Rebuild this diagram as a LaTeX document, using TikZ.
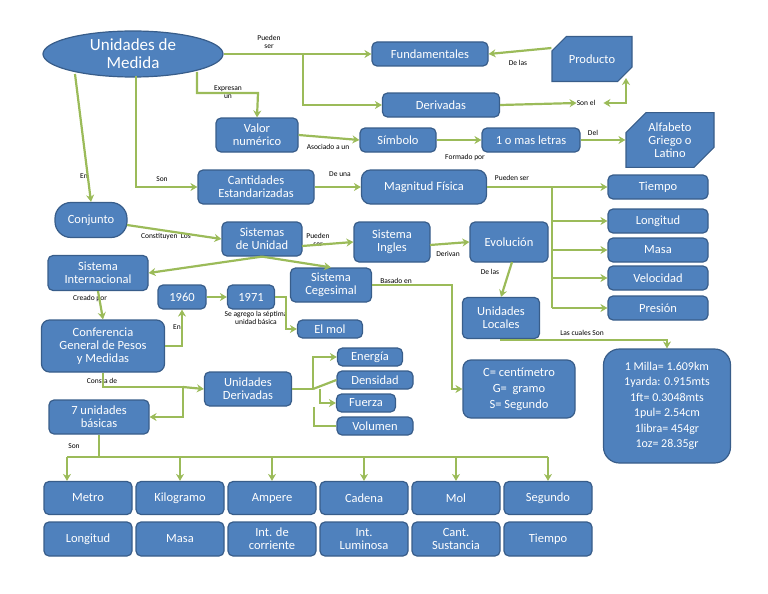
\documentclass[tikz,border=0pt]{standalone}
\usepackage{fontspec}
\setmainfont{Carlito}
\usetikzlibrary{shapes.geometric,shapes.misc,arrows.meta}
\definecolor{bfill}{HTML}{4F81BD}
\definecolor{bdraw}{HTML}{385D8A}
\definecolor{gr}{HTML}{9BBB59}
\begin{document}
\begin{tikzpicture}[x=1pt,y=-1pt,
  bx/.style={draw=bdraw,line width=1.2pt,fill=bfill,text=white,rounded corners=5pt,align=center,font=\fontsize{12.5}{13}\selectfont,inner sep=0pt,minimum height=#1},
  bx/.default=24,
  lb/.style={font=\fontsize{7.5}{8.5}\selectfont,align=center,inner sep=0pt},
  ar/.style={draw=gr,line width=2.2pt,-{Stealth[length=7pt,width=8pt]}},
  ln/.style={draw=gr,line width=2.2pt}]
\useasboundingbox (0,0) rectangle (768,594);
% nodes
\node[ellipse,draw=bdraw,line width=1.2pt,fill=bfill,text=white,minimum width=180,minimum height=46,align=center,inner sep=0pt,font=\fontsize{17}{18}\selectfont] (um) at (133,54) {Unidades de\\Medida};
\node[bx,minimum width=116] (fun) at (430,54) {Fundamentales};
\node[chamfered rectangle,chamfered rectangle corners={north west,south east},chamfered rectangle xsep=10pt,chamfered rectangle ysep=10pt,draw=bdraw,line width=1.2pt,fill=bfill,text=white,minimum width=80,minimum height=45,inner sep=0pt,font=\fontsize{12.5}{13}\selectfont] (pro) at (592,59) {Producto};
\node[bx,minimum width=117] (der) at (441,105) {Derivadas};
\node[lb] (sonel) at (586,103) {Son el};
\node[bx=34,minimum width=82] (val) at (257,135) {Valor\\numérico};
\node[bx,minimum width=76] (sim) at (398,140) {Símbolo};
\node[bx,minimum width=98] (let) at (531,140) {1 o mas letras};
\node[chamfered rectangle,chamfered rectangle corners={north west,south east},chamfered rectangle xsep=10pt,chamfered rectangle ysep=10pt,draw=bdraw,line width=1.2pt,fill=bfill,text=white,minimum width=88,minimum height=48,inner sep=0pt,align=center,font=\fontsize{12.5}{13}\selectfont] (alf) at (670,140) {Alfabeto\\Griego o\\Latino};
\node[bx=34,minimum width=116] (can) at (256,187) {Cantidades\\Estandarizadas};
\node[bx=34,minimum width=125,rounded corners=9pt] (mag) at (424,187) {Magnitud Física};
\node[bx,minimum width=100] (tie) at (658,187) {Tiempo};
\node[bx,minimum width=100] (lon) at (658,221) {Longitud};
\node[bx,minimum width=100] (mas) at (658,250) {Masa};
\node[bx,minimum width=100] (vel) at (658,278) {Velocidad};
\node[bx,minimum width=100] (pre) at (658,308) {Presión};
\node[bx=35,minimum width=72,rounded corners=16pt] (con) at (91,220) {Conjunto};
\node[bx=34,minimum width=80] (siu) at (262,239) {Sistemas\\de Unidad};
\node[bx=40,minimum width=76] (sin) at (392,242) {Sistema\\Ingles};
\node[bx=40,minimum width=78] (evo) at (509,242) {Evolución};
\node[bx=41,minimum width=77] (ul) at (501,318) {Unidades\\Locales};
\node[bx=114,minimum width=127,rounded corners=16pt,font=\fontsize{12}{15.5}\selectfont] (big) at (667,406) {1 Milla= 1.609km\\1yarda: 0.915mts\\1ft= 0.3048mts\\1pul= 2.54cm\\1libra= 454gr\\1oz= 28.35gr};
\node[bx=35,minimum width=100] (sint) at (98,273) {Sistema\\Internacional};
\node[bx=34,minimum width=81] (ceg) at (331,285) {Sistema\\Cegesimal};
\node[bx=58,minimum width=112,rounded corners=8pt,font=\fontsize{12.5}{16}\selectfont] (cgs) at (519,389) {C= centímetro\\G= \ gramo\\S= Segundo};
\node[bx=52,minimum width=123,rounded corners=8pt] (cgp) at (103,346) {Conferencia\\General de Pesos\\y Medidas};
\node[bx,minimum width=48] (y60) at (182,297) {1960};
\node[bx,minimum width=47] (y71) at (251,297) {1971};
\node[bx=18,minimum width=65] (mol) at (330,329) {El mol};
\node[bx=34,minimum width=87] (ud) at (248,389) {Unidades\\Derivadas};
\node[bx=34,minimum width=100] (sie) at (99,417) {7 unidades\\básicas};
\node[bx=18,minimum width=65] (ene) at (370,357) {Energía};
\node[bx=18,minimum width=76] (den) at (375,380) {Densidad};
\node[bx=18,minimum width=59] (fue) at (366,403) {Fuerza};
\node[bx=18,minimum width=76] (vol) at (375,426) {Volumen};
\foreach \n/\t/\b [count=\i from 0] in {met/Metro/Longitud, kil/Kilogramo/Masa, amp/Ampere/{Int. de\\corriente}, cad/Cadena/{Int.\\Luminosa}, mo/Mol/{Cant.\\Sustancia}, seg/Segundo/Tiempo}{
  \node[bx=33,minimum width=88] (\n) at (88+92*\i,498) {\t};
  \node[bx=34,minimum width=88] (\n b) at (88+92*\i,539) {\b};
}
% labels
\node[lb] at (269,42) {Pueden\\ser};
\node[lb] at (518,63) {De las};
\node[lb] at (228,92) {Expresan\\un};
\node[lb] at (328,147) {Asociado a un};
\node[lb] at (465,157) {Formado por};
\node[lb] at (593,133) {Del};
\node[lb] at (162,179) {Son};
\node[lb] at (340,174) {De una};
\node[lb] at (512,178) {Pueden ser};
\node[lb] at (84,176) {En};
\node[lb] at (166,237) {Constituyen\ \ Los};
\node[lb] at (318,240) {Pueden\\ser};
\node[lb] at (448,254) {Derivan};
\node[lb] at (490,272) {De las};
\node[lb] at (582,333) {Las cuales Son};
\node[lb] at (396,281) {Basado en};
\node[lb] at (90,298) {Creado por};
\node[lb] at (177,327) {En};
\node[lb] at (256,318) {Se agrego la séptima\\unidad básica};
\node[lb] at (102,381) {Consta de};
\node[lb] at (74,446) {Son};
% connectors
\draw[ar] (um.east) -- (fun.west);
\draw[ar] (303,53) |- (der.west);
\draw[ar] (pro.west |- 0,48) -- (fun.east);
\draw[ar] (der.east) -- (sonel.west);
\draw[draw=gr,line width=2.2pt,{Stealth[length=7pt,width=8pt]}-{Stealth[length=7pt,width=8pt]}] ([xshift=8pt]sonel.east) -| (626,78);
\draw[ar] (197,72) |- (258,93) -- (val.north);
\draw[ar] (val.east) -- (sim.west);
\draw[ar] (sim.east) -- (let.west);
\draw[ar] (let.east) -- (alf.west);
\draw[ar] (136,76) |- (can.west);
\draw[ar] (can.east) -- (mag.west);
\draw[ar] (mag.east) -- (tie.west);
\draw[ln] (552,187) -- (552,308);
\foreach \t in {lon,mas,vel,pre} \draw[ar] (552,0 |- \t.west) -- (\t.west);
\draw[ar] (75,74) -- (con.north);
\draw[ar] (127,225) -- (siu.west);
\draw[ar] (302,246) -- (sin.west);
\draw[ar] (430,245) -- (evo.west);
\draw[ar] (512,262) -- (ul.north);
\draw[ar] (ul.south) -- (501,340) -| (big.north);
\draw[ar] (siu.south) -- (sint.east);
\draw[ar] (siu.south) -- (ceg.north);
\draw[ar] (ceg.east) -- (452,285) |- (cgs.west);
\draw[ar] (sint.south) -- (cgp.north);
\draw[ar] (cgp.east) -| (y60.south);
\draw[ar] (y60.east) -- (y71.west);
\draw[ar] (y71.east) -- (286,297) |- (mol.west);
\draw[ln] (cgp.south) |- (183,387);
\draw[ar] (183,387) -- (ud.west);
\draw[ar] (183,387) |- (sie.east);
\draw[ln] (ud.east) -- (313,389);
\draw[ar] (313,389) |- (ene.west);
\draw[ln] (313,389) -- (den.west);
\draw[ar] (320,389) |- (fue.west);
\draw[ln] (314,407) |- (vol.west);
\draw[ln] (sie.south) -- (99,457);
\draw[ln] (67,457) -- (548,457);
\foreach \n/\xx in {met/67,kil/180,amp/272,cad/364,mo/456,seg/548} \draw[ar] (\xx,457) -- (\xx,0 |- \n.north);
\end{tikzpicture}
\end{document}
